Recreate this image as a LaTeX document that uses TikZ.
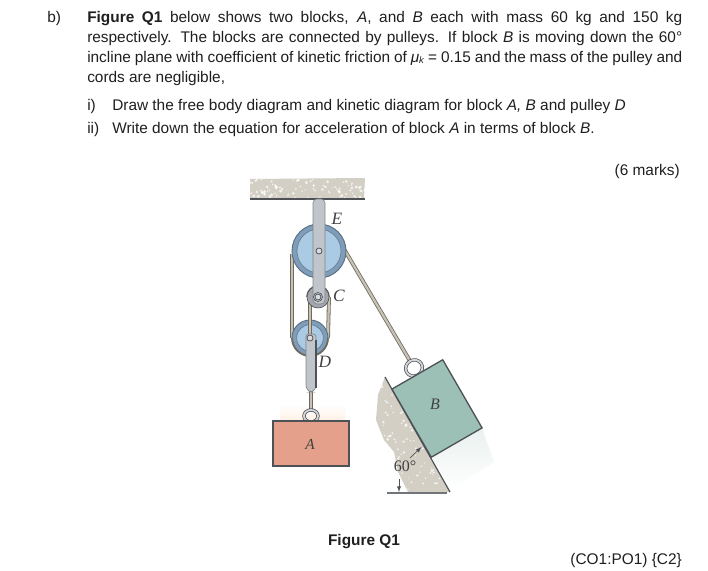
\documentclass[tikz,border=0pt]{standalone}
\usepackage{fontspec}
\setmainfont{Liberation Sans}
\newfontfamily\figserif{Liberation Serif}
\usetikzlibrary{calc}
\definecolor{ropefill}{HTML}{C8C2B4}
\definecolor{ropeedge}{HTML}{6E695F}
\definecolor{rimblue}{HTML}{7F9DB8}
\definecolor{faceblue}{HTML}{ABCBE4}
\definecolor{hanger}{HTML}{BFC5CB}
\definecolor{edgedark}{HTML}{4E5257}
\definecolor{speck}{HTML}{D3CFC5}
\definecolor{blockA}{HTML}{E5A08C}
\definecolor{blockB}{HTML}{9CC0B6}
\tikzset{
  txt/.style={anchor=base west,inner sep=0pt,font=\fontsize{11.55}{13}\selectfont,text=black!88},
  figlabel/.style={inner sep=0pt,font=\figserif\itshape\fontsize{13}{14}\selectfont,text=black!75},
  pulley/.style={circle,draw=rimblue!70!black,line width=.7pt,fill=rimblue,inner sep=0pt},
  pface/.style={circle,fill=faceblue,draw=rimblue!80!black,line width=.5pt,inner sep=0pt},
  pin/.style={circle,draw=edgedark,line width=.6pt,fill=hanger!60,inner sep=0pt,minimum size=4.5pt},
  ropeback/.style={draw=ropeedge,line width=2.9pt},
  ropefront/.style={draw=ropefill,line width=1.7pt},
  hangerbar/.style={fill=hanger,draw=edgedark!70,line width=.5pt,rounded corners=2pt},
}
\newcommand{\justline}[1]{\makebox[446.25pt][s]{#1}}
\begin{document}
\begin{tikzpicture}[x=.75pt,y=-.75pt]
\useasboundingbox (0,0) rectangle (708,571);
\fill[white] (0,0) rectangle (708,571);
% text
\node[txt] (tb) at (47,22) {b)};
\node[txt] (t1) at (87,22) {\justline{\textbf{Figure Q1} below shows two blocks, \textit{A}, and \textit{B} each with mass 60 kg and 150 kg}};
\node[txt] (t2) at (87,42) {\justline{respectively. The blocks are connected by pulleys. If block \textit{B} is moving down the 60°}};
\node[txt] (t3) at (87,62) {\justline{incline plane with coefficient of kinetic friction of \textit{μ}\raisebox{-1.5pt}{\fontsize{7}{8}\selectfont\textit{k}} = 0.15 and the mass of the pulley and}};
\node[txt] (t4) at (87,82) {cords are negligible,};
\node[txt] (ti) at (87,110) {i)};
\node[txt] (t5) at (112,110) {Draw the free body diagram and kinetic diagram for block \textit{A, B} and pulley \textit{D}};
\node[txt] (tii) at (87,133) {ii)};
\node[txt] (t6) at (112,133) {Write down the equation for acceleration of block \textit{A} in terms of block \textit{B}.};
\node[txt,anchor=base east] (t7) at (680,175) {(6 marks)};
\node[txt,anchor=base] (cap) at (364,545) {\textbf{Figure Q1}};
\node[txt,anchor=base east] (t8) at (682,564) {(CO1:PO1) \{C2\}};
% ceiling
\fill[speck] (250,179) -- (365,178) -- (364,198) -- (250,198) -- cycle;
\begin{scope}
\clip (250,179) rectangle (365,198);
\pgfmathsetseed{7}
\foreach \i in {1,...,90}{\fill[white,opacity=.75] ({250+115*rnd},{179+19*rnd}) circle ({.6+1.1*rnd});}
\end{scope}
\draw[edgedark,line width=1.2pt] (250,199) -- (365,199);
% incline ground
\fill[speck] (385,377) -- (378,395) -- (376,420) -- (384,440) -- (394,452) -- (398,472) -- (408,492) -- (450,492) -- cycle;
\begin{scope}
\clip (385,377) -- (378,395) -- (376,420) -- (384,440) -- (394,452) -- (398,472) -- (408,492) -- (450,492) -- cycle;
\pgfmathsetseed{11}
\foreach \i in {1,...,170}{\fill[white,opacity=.75] ({372+78*rnd},{377+115*rnd}) circle ({.5+1*rnd});}
\end{scope}
% glows
\shade[top color=white,bottom color=red!10!orange!10] (280,404) rectangle (345,421);
\shade[shading angle=30,top color=blockB!22,bottom color=white] (432,457) -- (482,428) -- (494,462) -- (450,490) -- cycle;
\coordinate (inclTop) at (385,377);
\coordinate (inclBot) at (450,492);
\coordinate (gndL) at (387,493);
\coordinate (gndR) at (447,493);
\draw[edgedark,line width=.9pt] (inclTop) -- (inclBot);
\draw[edgedark!80,line width=1.1pt] (gndL) -- (gndR);
% named anchors
\coordinate (ringB) at (414,368);
\coordinate (ringA) at (311,416);
\coordinate (ringBtop) at (410,361);
\coordinate (ringAtop) at (311,410);
\coordinate (leftE) at (292,254);
\coordinate (rightE) at (344,249);
\coordinate (hDbot) at (311,390);
\coordinate (cStrand) at (310,297);
\coordinate (dLeft) at (292,338);
\coordinate (dRight) at (328,338);
\coordinate (cRight) at (329,297);
\coordinate (dCentre) at (310,338);
% cords behind the sheaves
\foreach \st in {ropeback,ropefront}{
  \path[\st] (ringBtop) -- (rightE);
  \path[\st] (leftE) -- (dLeft);
  \path[\st] (dRight) -- (cRight);
  \path[\st] (cStrand) -- (dCentre);
  \path[\st] (hDbot) -- (ringAtop);
}
% pulleys
\node[pulley,minimum size=40.5pt] (pE) at (319,251) {};
\node[pface,minimum size=33pt] (pEf) at (319,251) {};
\draw[ropeedge,line width=1.3pt] (cRight) arc[start angle=0,end angle=-180,radius=11];
\node[circle,draw=edgedark,fill=hanger!85!black,line width=.5pt,inner sep=0pt,minimum size=16.5pt] (pC) at (318,297) {};
\node[pulley,minimum size=27pt] (pD) at (310,338) {};
\node[pface,minimum size=20pt] (pDf) at (310,338) {};
\draw[ropeedge,line width=1.3pt] (dLeft) arc[start angle=180,end angle=0,radius=18];
% strand in front of D
\foreach \st in {ropeback,ropefront}{\path[\st] (pC.south -| dCentre) -- (dCentre);}
% rings
\draw[edgedark,line width=2.5pt,rotate around={30:(ringB)}] (ringB) ellipse (8.5 and 8);
\draw[hanger!70,line width=1.4pt,rotate around={30:(ringB)}] (ringB) ellipse (8.5 and 8);
\draw[edgedark,line width=2.5pt] (ringA) ellipse (7 and 6);
\draw[hanger!70,line width=1.4pt] (ringA) ellipse (7 and 6);
% blocks
\node[draw=edgedark,line width=1pt,fill=blockA,minimum width=57pt,minimum height=33.75pt,inner sep=0pt] (A) at (311,443.5) {};
\node[draw=edgedark,line width=1pt,fill=blockB,rotate=30,minimum width=44pt,minimum height=59pt,inner sep=0pt] (B) at (437,408.5) {};
% hangers
\node[inner sep=0pt] (hE) at (319,199) {};
\fill[hanger,draw=edgedark!70,line width=.5pt,rounded corners=3pt] (hE.center) ++(-6,0) -- ++(12,0) -- ++(0,105) -- ++(-12,0) -- cycle;
\fill[hanger!60,draw=edgedark,line width=.5pt] (pC.center) circle (4.5);
\draw[hangerbar] (306,334) -- (316,334) -- (316,388) -- (312,392) -- (310,392) -- (306,388) -- cycle;
\draw[edgedark,line width=.8pt] (316,340) -- (316,388);
\node[pin] (pinE) at (pE) {};
\node[pin] (pinC) at (pC) {};
\node[pin] (pinD) at (pD) {};
% labels
\node[figlabel] (lE) at (337,219) {E};
\node[figlabel] (lC) at (339,296) {C};
\node[figlabel] (lD) at (325,362) {D};
\node[figlabel,font=\figserif\itshape\fontsize{11.5}{12}\selectfont] (lA) at (310,444) {A};
\node[figlabel,font=\figserif\itshape\fontsize{12}{12}\selectfont] (lB) at (435,404) {B};
\node[figlabel,font=\figserif\fontsize{12}{12}\selectfont] (l60) at (405,466) {60°};
% angle arrows
\coordinate (aA) at (410,458);
\coordinate (aB) at (421.5,447);
\coordinate (bA) at (399,479);
\coordinate (bB) at (399,492);
\draw[-latex,edgedark,line width=.5pt] (aA) -- (aB);
\draw[-latex,edgedark,line width=.5pt] (bA) -- (bB);
\end{tikzpicture}
\end{document}
